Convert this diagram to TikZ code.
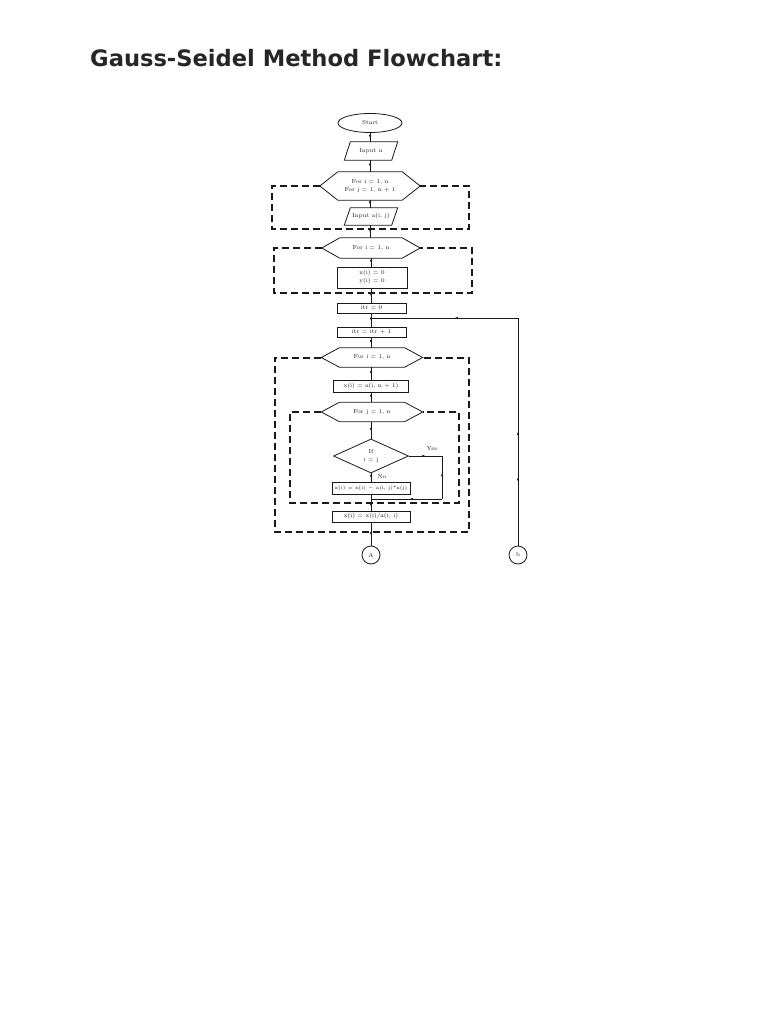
\documentclass[tikz,border=0pt]{standalone}
\usepackage{fontspec}
\newfontfamily\titlefont{DejaVu Sans}
\usetikzlibrary{arrows.meta,decorations.markings,shapes.geometric}
\definecolor{titlegray}{HTML}{262626}
\definecolor{ink}{HTML}{1A1A1A}
\newcommand\hexpath[2]{\draw[shapeline] (#1.west) -- ([xshift=#2]#1.north west) -- ([xshift=-#2]#1.north east) -- (#1.east) -- ([xshift=-#2]#1.south east) -- ([xshift=#2]#1.south west) -- cycle;}
\newcommand\parapath[2]{\draw[shapeline] (#1.south west) -- ([xshift=-#2]#1.south east) -- (#1.north east) -- ([xshift=#2]#1.north west) -- cycle;}
\tikzset{
  flow/.style={line width=0.6pt, draw=ink},
  shapeline/.style={line width=0.8pt, draw=ink},
  txt/.style={font=\fontsize{5.8}{8}\selectfont, text=ink, align=center},
  procbox/.style={txt, draw=ink, line width=0.8pt, inner sep=0pt},
  hexbox/.style={txt, inner sep=0pt},
  parabox/.style={txt, inner sep=0pt},
  dbox/.style={line width=2pt, draw=ink, dash pattern=on 7pt off 4pt},
  midarrow/.style={postaction={decorate}, decoration={markings, mark=at position #1 with {\arrow{Latex[length=3pt,width=2.6pt]}}}},
  midarrow/.default=0.55,
  twoarrows/.style={postaction={decorate}, decoration={markings,
    mark=at position 0.3 with {\arrow{Latex[length=3pt,width=2.6pt]}},
    mark=at position 0.5 with {\arrow{Latex[length=3pt,width=2.6pt]}}}},
  conn/.style={txt, circle, draw=ink, line width=0.8pt, minimum size=18pt, inner sep=0pt}
}
\begin{document}
\begin{tikzpicture}[x=1pt,y=-1pt]
\useasboundingbox (0,0) rectangle (768,1024);
\fill[white] (0,0) rectangle (768,1024);

\node[anchor=base west, font=\titlefont\bfseries\fontsize{22.6}{26}\selectfont, text=titlegray, inner sep=0pt] (title) at (90,67) {Gauss-Seidel Method Flowchart:};

% nodes
\node[txt, ellipse, draw=ink, line width=0.8pt, minimum width=64pt, minimum height=19pt, inner sep=0pt] (start) at (370,123) {Start};
\node[parabox, minimum width=53pt, minimum height=18pt] (inn) at (371,151) {Input n};
\parapath{inn}{6}
\node[hexbox, minimum width=100pt, minimum height=28pt] (h1) at (370,186) {For i = 1, n\\For j = 1, n + 1};
\hexpath{h1}{18}
\node[parabox, minimum width=53pt, minimum height=17pt] (ina) at (371,216.5) {Input a(i, j)};
\parapath{ina}{6}
\node[hexbox, minimum width=98pt, minimum height=20pt] (h2) at (371,248) {For i = 1, n};
\hexpath{h2}{18}
\node[procbox, minimum width=70pt, minimum height=21pt] (xy0) at (372,277.5) {x(i) = 0\\y(i) = 0};
\node[procbox, minimum width=69pt, minimum height=10pt] (itr0) at (371.5,308) {itr = 0};
\node[procbox, minimum width=69pt, minimum height=10pt] (itr1) at (371.5,332) {itr = itr + 1};
\node[hexbox, minimum width=101pt, minimum height=19pt] (h3) at (372,357.5) {For i = 1, n};
\hexpath{h3}{18}
\node[procbox, minimum width=75pt, minimum height=12pt] (xa) at (371,386) {x(i) = a(i, n + 1)};
\node[hexbox, minimum width=101pt, minimum height=19pt] (h4) at (372,412) {For j = 1, n};
\hexpath{h4}{18}
\node[txt, diamond, draw=ink, line width=0.8pt, minimum width=75pt, minimum height=34pt, inner sep=0pt] (ifn) at (371,456) {If\\i = j};
\node[procbox, minimum width=78pt, minimum height=12pt, font=\fontsize{4.9}{6}\selectfont] (xsub) at (371,488) {x(i) = x(i) $-$ a(i, j)*x(j)};
\node[procbox, minimum width=78pt, minimum height=11pt] (xdiv) at (371,516.5) {x(i) = x(i)/a(i, i)};
\node[conn] (ca) at (371,555) {A};
\node[conn] (cb) at (518,555) {b};
\node[txt, inner sep=0pt] (yes) at (432,449) {Yes};
\node[txt, inner sep=0pt] (no) at (382,477) {No};

% dashed loop boxes
\draw[dbox] (h1.west) -- (272,186) -- (272,229) -- (469,229) -- (469,186) -- (h1.east);
\draw[dbox] (h2.west) -- (274,248) -- (274,293) -- (472,293) -- (472,248) -- (h2.east);
\draw[dbox] (h3.west) -- (275,357.5) -- (275,532) -- (469,532) -- (469,357.5) -- (h3.east);
\draw[dbox] (h4.west) -- (290,412) -- (290,503) -- (459,503) -- (459,412) -- (h4.east);

% main connectors
\draw[flow, midarrow] (start) -- (inn.north -| start);
\draw[flow, midarrow] (inn.south -| start) -- (h1.north -| start);
\draw[flow, midarrow] (h1.south -| start) -- (ina.north -| start);
\draw[flow, midarrow] (ina.south -| start) -- (h2.north -| start);
\coordinate (mx) at (371,0);
\draw[flow, midarrow] (h2.south -| mx) -- (xy0.north -| mx);
\draw[flow, midarrow] (xy0.south -| mx) -- (itr0.north -| mx);
\draw[flow, midarrow] (itr0.south -| mx) -- (itr1.north -| mx);
\draw[flow, midarrow] (itr1.south -| mx) -- (h3.north -| mx);
\draw[flow, midarrow] (h3.south -| mx) -- (xa.north -| mx);
\draw[flow, midarrow] (xa.south -| mx) -- (h4.north -| mx);
\draw[flow, midarrow] (h4.south -| mx) -- (ifn.north);
\draw[flow, midarrow] (ifn.south) -- (xsub.north);
\draw[flow, midarrow=0.75] (xsub.south) -- (xdiv.north);
\draw[flow, midarrow] (xdiv.south) -- (ca.north);

% yes branch
\coordinate (y1) at (442,456);
\coordinate (y2) at (442,499);
\coordinate (y3) at (371,499);
\draw[flow, midarrow=0.5] (ifn.east) -- (y1);
\draw[flow, midarrow=0.5] (y1) -- (y2);
\draw[flow, midarrow=0.45] (y2) -- (y3);

% b return
\coordinate (b1) at (518,318);
\coordinate (b2) at (371,318);
\draw[flow, twoarrows] (cb.north) -- (b1);
\draw[flow, midarrow=0.43] (b1) -- (b2);
\end{tikzpicture}
\end{document}
